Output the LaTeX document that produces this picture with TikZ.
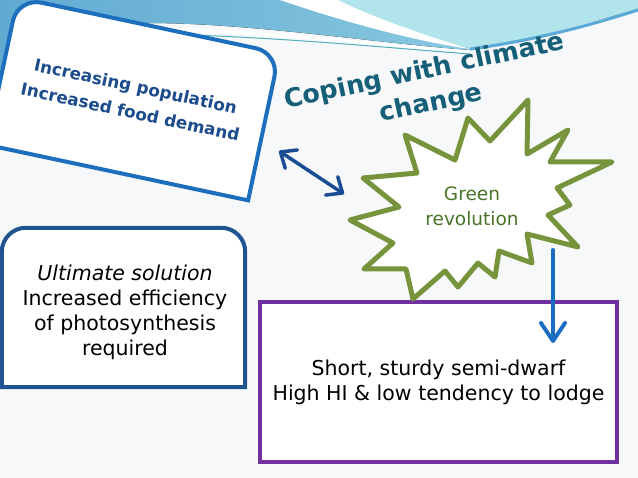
\documentclass[tikz,border=0pt]{standalone}
\usepackage{fontspec}
\setmainfont{DejaVu Sans}
\usetikzlibrary{arrows.meta}

\definecolor{pagebg}{RGB}{247,248,250}
\definecolor{wavedeep}{RGB}{96,170,210}
\definecolor{wavemid}{RGB}{150,210,228}
\definecolor{wavecyan}{RGB}{178,228,236}
\definecolor{wavestripe}{RGB}{90,170,215}
\definecolor{waveline}{RGB}{80,175,190}
\definecolor{popblue}{RGB}{30,110,190}
\definecolor{poptext}{RGB}{28,76,140}
\definecolor{ultblue}{RGB}{31,84,145}
\definecolor{titleteal}{RGB}{22,95,120}
\definecolor{starolive}{RGB}{119,147,60}
\definecolor{greentext}{RGB}{72,116,40}
\definecolor{dwarfpurple}{RGB}{112,48,160}
\definecolor{arrowblue}{RGB}{25,110,195}
\definecolor{arrowdark}{RGB}{25,78,148}

\tikzset{
  boxtext/.style={align=center, font=\fontsize{20.5}{25}\selectfont},
  barb/.style={line width=4pt, line cap=round,
    arrows={-Straight Barb[length=18pt,width=24pt,round]}},
}

\begin{document}
\begin{tikzpicture}[x=1pt, y=-1pt]
    \useasboundingbox (0,0) rectangle (638,478);
    % background and top waves
    \fill[pagebg] (0,0) rectangle (638,478);
    \fill[left color=wavedeep, right color=wavemid] (0,0) -- (638,0) -- (638,10)
        .. controls (560,28) and (520,44) .. (470,50)
        .. controls (380,44) and (220,18) .. (120,24)
        .. controls (60,28) and (20,60) .. (0,110) -- cycle;
    \fill[wavecyan] (330,0) .. controls (390,22) and (430,40) .. (470,48)
        .. controls (540,38) and (600,20) .. (638,8) -- (638,0) -- cycle;
    \fill[white] (280,0) .. controls (350,24) and (420,42) .. (470,49)
        .. controls (420,34) and (370,16) .. (338,0) -- cycle;
    \draw[white, line width=3pt] (140,28) .. controls (260,31) and (380,45) .. (470,52);
    \draw[waveline, line width=1pt] (160,34) .. controls (280,37) and (390,48) .. (470,54);
    \draw[wavestripe, line width=3pt] (470,49) .. controls (540,40) and (600,22) .. (638,10);

    % population box
    \node[rotate=-12, minimum width=267pt, minimum height=150pt] (pop) at (133,99) {};
    \filldraw[fill=white, draw=popblue, line width=4pt]
        (pop.west) [rounded corners=24pt] -- (pop.north west) -- (pop.north east) -- (pop.east)
        [sharp corners] -- (pop.south east) -- (pop.south west) -- cycle;
    \node[rotate=-12, align=center, text=poptext, font=\fontsize{16.8}{26}\selectfont\bfseries]
        (poptxt) at (pop.center) {Increasing population\\Increased food demand};

    % title
    \node[rotate=12, align=center, text=titleteal, font=\fontsize{25.5}{33}\selectfont\bfseries]
        (title) at (428,88) {Coping with climate\\change};

    % semi-dwarf box
    \node[draw=dwarfpurple, line width=4pt, fill=white, minimum width=357pt,
        minimum height=160pt, boxtext] (dwarf) at (438.5,382)
        {Short, sturdy semi-dwarf\\High HI \& low tendency to lodge};

    % green revolution star
    \draw[starolive, fill=white, line width=5pt, line join=round]
        (363,178) -- (417,173) -- (405,135) -- (455,160) -- (468,118) -- (490,141)
        -- (528,100) -- (527,154) -- (568,130) -- (550,162) -- (612,162) -- (557,188)
        -- (570,205) -- (548,215) -- (578,247) -- (527,234) -- (532,263) -- (499,251)
        -- (495,277) -- (478,263) -- (458,287) -- (445,271) -- (413,299) -- (406,269)
        -- (364,269) -- (393,243) -- (350,220) -- (399,207) -- cycle;
    \node[align=center, text=greentext, font=\fontsize{18.5}{25}\selectfont]
        (green) at (472,206) {Green\\revolution};

    % ultimate solution box
    \node[minimum width=243pt, minimum height=159pt] (ult) at (123.5,307.5) {};
    \filldraw[fill=white, draw=ultblue, line width=4pt]
        (ult.west) [rounded corners=24pt] -- (ult.north west) -- (ult.north east) -- (ult.east)
        [sharp corners] -- (ult.south east) -- (ult.south west) -- cycle;
    \node[boxtext] (ulttxt) at (125,312.5)
        {\textit{Ultimate solution}\\Increased efficiency\\of photosynthesis\\required};

    % arrows
    \coordinate (dropA) at (553,250);
    \coordinate (dropB) at (553,343);
    \draw[barb, arrowblue] (dropA) -- (dropB);
    \coordinate (linkA) at (279,151);
    \coordinate (linkB) at (344,194);
    \draw[arrowdark, line width=3.5pt, line cap=round,
        arrows={Straight Barb[length=13pt,width=22pt,round]-Straight Barb[length=13pt,width=22pt,round]}]
        (linkA) -- (linkB);
\end{tikzpicture}
\end{document}
